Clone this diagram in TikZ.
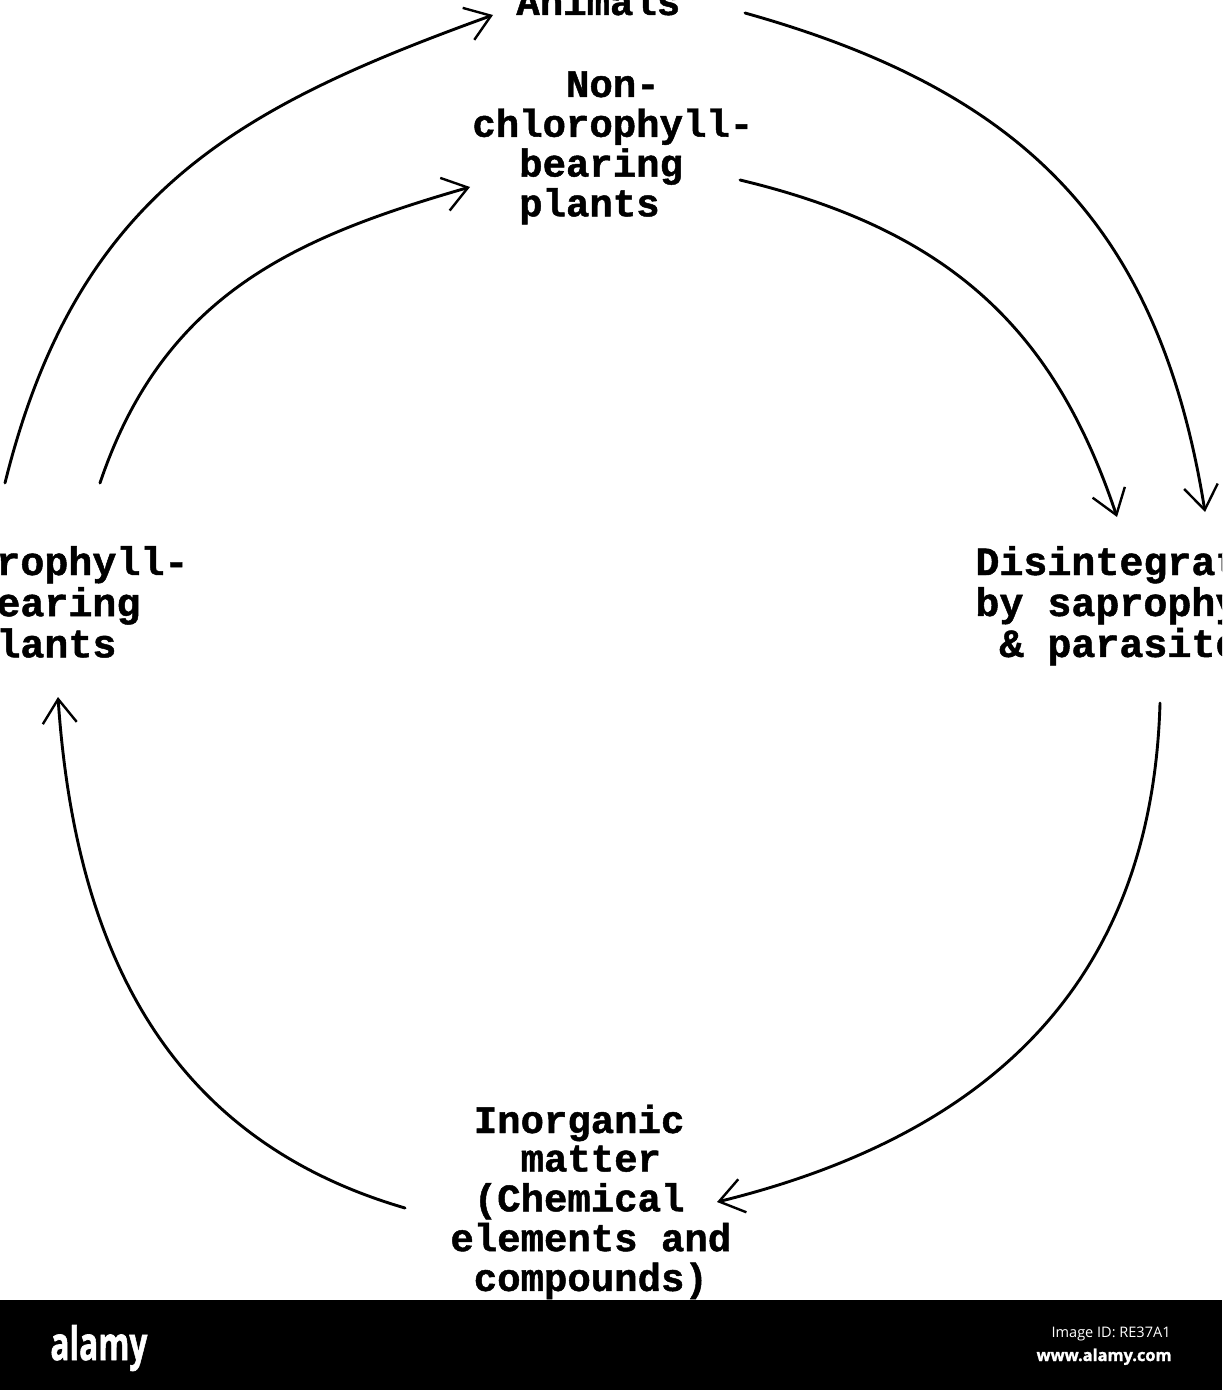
\documentclass[tikz,border=0pt]{standalone}
\usepackage{fontspec}
\usepackage{graphicx}
\usetikzlibrary{arrows.meta}
\newfontfamily\typefont{Liberation Mono}[BoldFeatures={FakeBold=1.2}]
\newfontfamily\logofont{Open Sans}[BoldFeatures={FakeBold=1.5}]
\begin{document}
\begin{tikzpicture}[x=0.5pt,y=-0.5pt,
  flow/.style={line width=1.45pt, line cap=round,
    -{Straight Barb[length=12pt,width=17pt,line width=1.2pt]}},
  lbl/.style={inner sep=0pt, anchor=base west, font=\typefont\bfseries},
  wm/.style={inner sep=0pt, text=white}]
\useasboundingbox (0,0) rectangle (1222,1390);
\clip (0,0) rectangle (1222,1390);
\fill[white] (0,0) rectangle (1222,1390);

% labels
\node[lbl] (animals) at (516,15) {\fontsize{19.5}{19.5}\selectfont Animals};
\node[lbl] (nonchl) at (472,97) {\fontsize{19.5}{19.2}\selectfont
  \begin{tabular}[t]{@{}l@{}}\phantom{xxxx}Non-\\chlorophyll-\\\phantom{xx}bearing\\\phantom{xx}plants\end{tabular}};
\node[lbl] (chl) at (-100,575) {\fontsize{20}{20.3}\selectfont
  \begin{tabular}[t]{@{}l@{}}Chlorophyll-\\\phantom{xxx}bearing\\\phantom{xxx}plants\end{tabular}};
\node[lbl] (dis) at (975,575) {\fontsize{20}{20}\selectfont
  \begin{tabular}[t]{@{}l@{}}Disintegration\\by saprophytes\\\phantom{x}\& parasites\end{tabular}};
\node[lbl] (inorg) at (450,1133) {\fontsize{19.5}{19.25}\selectfont
  \begin{tabular}[t]{@{}l@{}}\phantom{x}Inorganic\\\phantom{xxx}matter\\\phantom{x}(Chemical\\elements and\\\phantom{x}compounds)\end{tabular}};

% connector end points
\coordinate (a0) at (5,483);    \coordinate (a1) at (493,15);
\coordinate (b0) at (100,483);  \coordinate (b1) at (470,187);
\coordinate (c0) at (745,13);   \coordinate (c1) at (1205,512);
\coordinate (d0) at (740,180);  \coordinate (d1) at (1117,517);
\coordinate (e0) at (1160,703); \coordinate (e1) at (717,1202);
\coordinate (f0) at (405,1208); \coordinate (f1) at (58,697);

% connectors
\draw[flow] (a0) .. controls (77,192) and (239,107) .. (a1);
\draw[flow] (b0) .. controls (164,293) and (297,237) .. (b1);
\draw[flow] (c0) .. controls (1023,91) and (1159,225) .. (c1);
\draw[flow] (d0) .. controls (953,231) and (1055,332) .. (d1);
\draw[flow] (e0) .. controls (1152,983) and (989,1135) .. (e1);
\draw[flow] (f0) .. controls (165,1138) and (75,947) .. (f1);

% bottom banner
\fill[black] (0,1300) rectangle (1222,1390);
\node[wm, anchor=base west] (logo) at (50,1360)
  {\resizebox{48.5pt}{17.5pt}{\logofont\bfseries alamy}};
\node[wm, anchor=base east] (imgid) at (1171,1337)
  {\resizebox{59.5pt}{!}{\logofont Image ID: RE37A1}};
\node[wm, anchor=base east] (web) at (1172,1361)
  {\resizebox{67.5pt}{!}{\logofont\bfseries www.alamy.com}};
\end{tikzpicture}
\end{document}
